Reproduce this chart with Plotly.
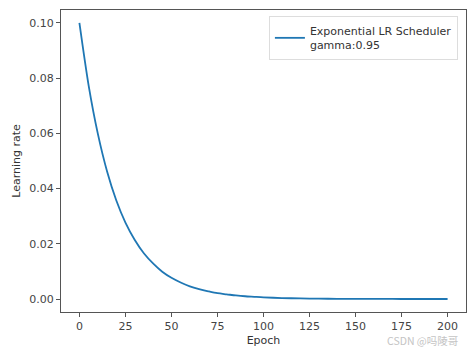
import plotly.graph_objects as go

# Learning rate recorded by the exponential scheduler (gamma 0.95), sampled epochs
epochs = [0, 5, 10, 15, 20, 25, 30, 35, 40, 45, 50, 55, 60, 65, 70, 75, 80, 85,
          90, 95, 100, 110, 120, 130, 140, 150, 160, 170, 180, 190, 200]
learning_rate = [0.1, 0.0774, 0.0599, 0.0463, 0.0358, 0.0277, 0.0215, 0.0166,
                 0.0129, 0.0099, 0.0077, 0.0060, 0.0046, 0.0036, 0.0028, 0.0021,
                 0.0017, 0.0013, 0.0010, 0.0008, 0.0006, 0.00036, 0.00021,
                 0.00013, 0.00008, 0.00005, 0.00003, 0.00002, 0.00001,
                 0.000006, 0.000004]

x_ticks = [0, 25, 50, 75, 100, 125, 150, 175, 200]
y_ticks = [0.0, 0.02, 0.04, 0.06, 0.08, 0.10]
y_tick_text = ["0.00", "0.02", "0.04", "0.06", "0.08", "0.10"]

series_name = "Exponential LR Scheduler<br>gamma:0.95"
watermark = "CSDN @吗陵哥"

font_family = "DejaVu Sans, Liberation Sans, sans-serif"
tick_color = "#444444"

fig = go.Figure()
fig.add_trace(go.Scatter(
    x=epochs, y=learning_rate, mode="lines", name=series_name,
    line=dict(color="#1f77b4", width=1.8, shape="spline", smoothing=0.8),
))

axis_common = dict(
    showgrid=False, zeroline=False, showline=True, linecolor="#555555",
    linewidth=1, mirror=True, ticks="outside", ticklen=4, tickcolor="#555555",
    tickfont=dict(family=font_family, size=11, color=tick_color),
    automargin=False,
)

fig.update_layout(
    width=474, height=348,
    margin=dict(l=61, r=8, t=10, b=36),
    paper_bgcolor="white", plot_bgcolor="white",
    font=dict(family=font_family, color=tick_color),
    showlegend=True,
    legend=dict(
        x=0.98, y=0.98, xanchor="right", yanchor="top",
        bgcolor="rgba(255,255,255,0.8)", bordercolor="#dddddd", borderwidth=1,
        font=dict(family=font_family, size=11, color="#333333"),
        itemwidth=30,
    ),
    xaxis=dict(range=[-10, 210], tickvals=x_ticks,
               title=dict(text="Epoch", standoff=4,
                          font=dict(family=font_family, size=11, color="#333333")),
               **axis_common),
    yaxis=dict(range=[-0.0047, 0.1047], tickvals=y_ticks, ticktext=y_tick_text,
               title=dict(text="Learning rate", standoff=6,
                          font=dict(family=font_family, size=11, color="#333333")),
               **axis_common),
    annotations=[dict(
        text=watermark, xref="paper", yref="paper", x=0.985, y=-0.062,
        xanchor="right", yanchor="top", showarrow=False,
        font=dict(family="Noto Sans CJK SC, DejaVu Sans, sans-serif",
                  size=10.5, color="#c4c4c4"),
    )],
)

fig.write_html("out.html")
